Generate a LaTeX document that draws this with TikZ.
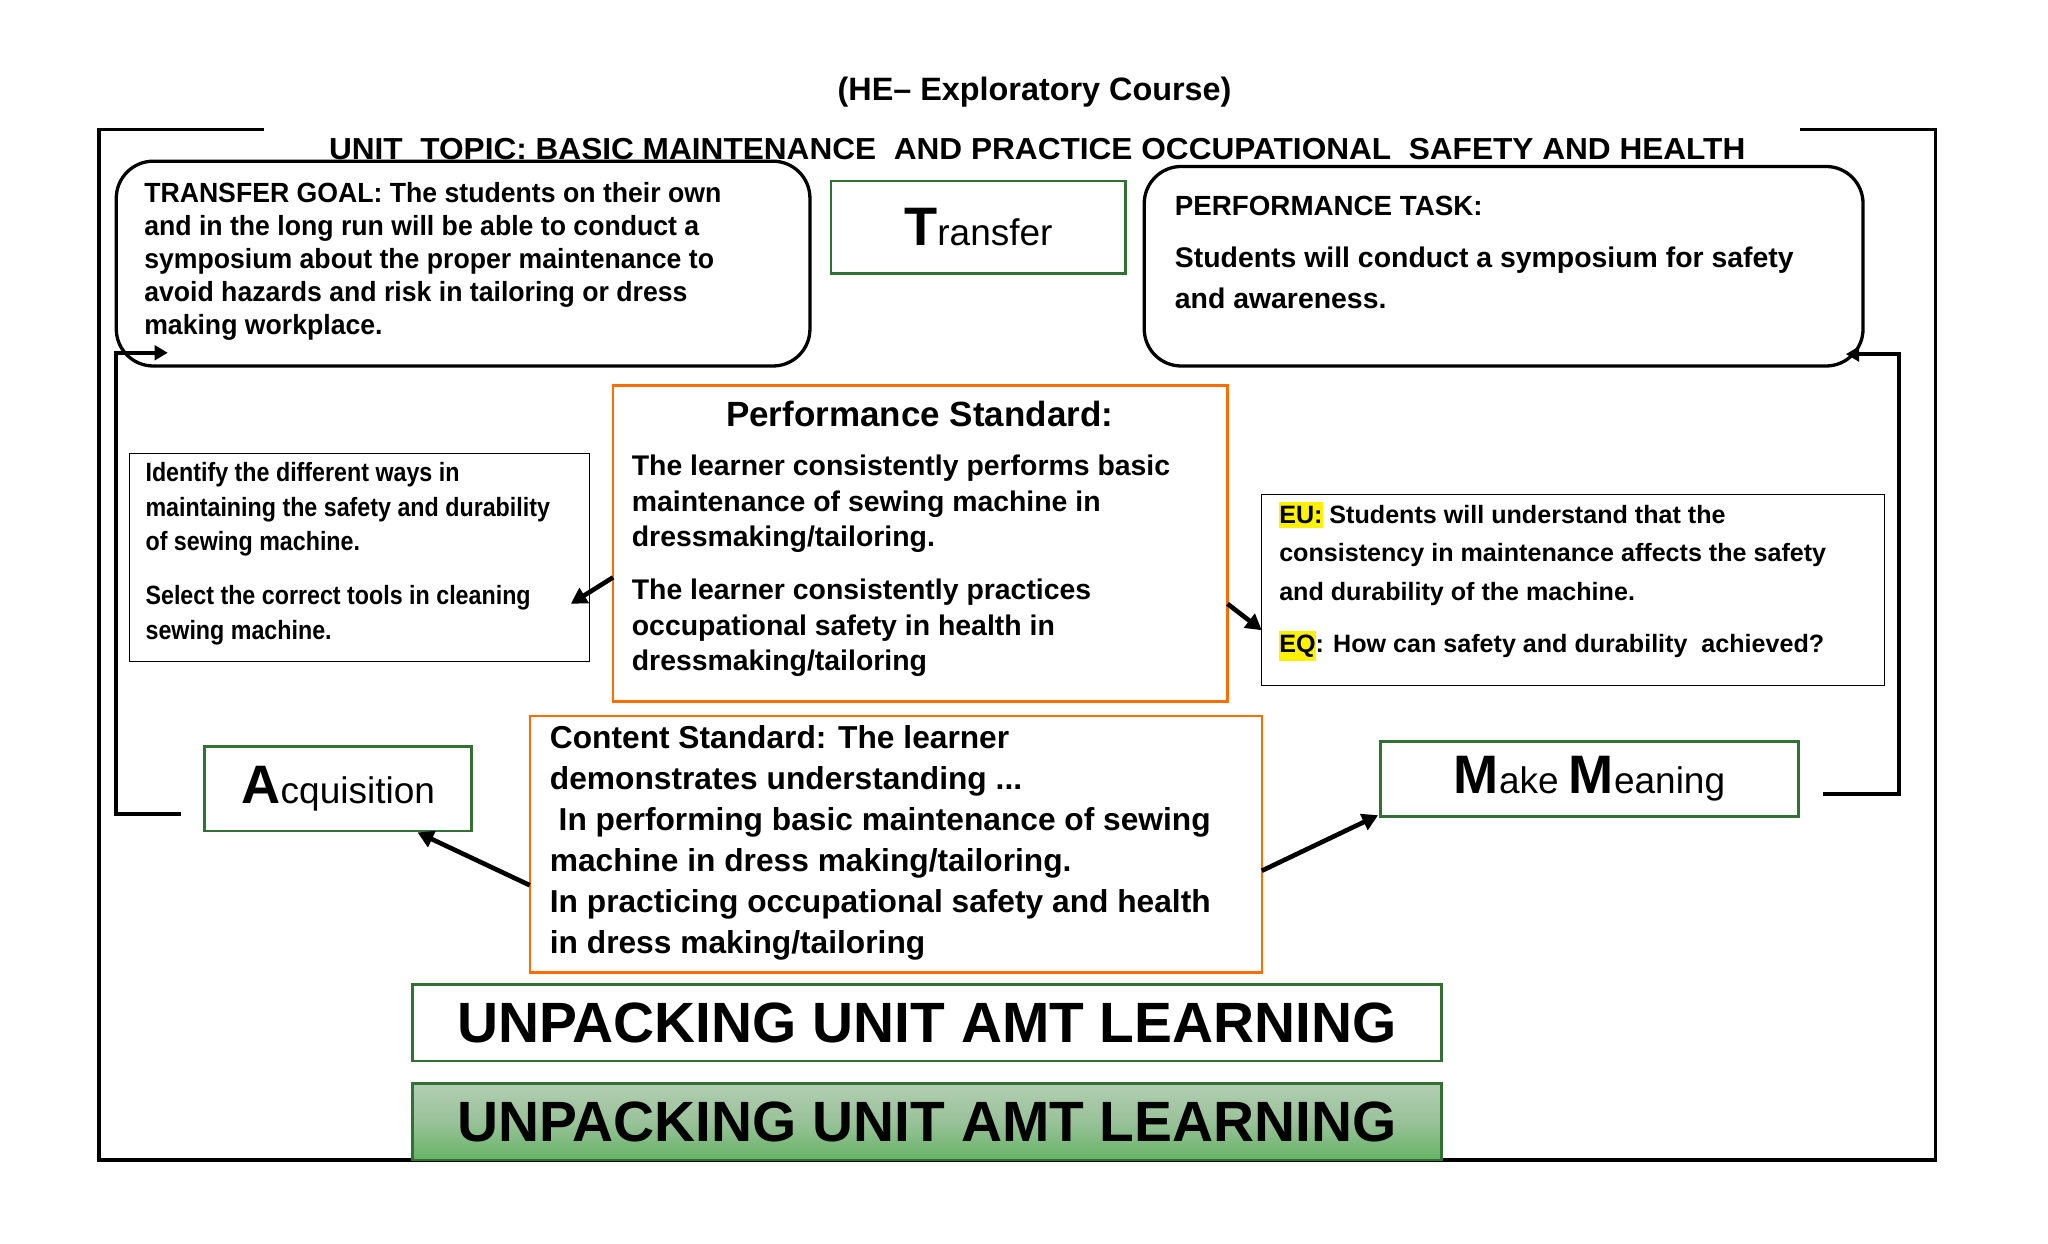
\documentclass[tikz,border=0pt]{standalone}
\usepackage{fontspec}
\setmainfont{Liberation Sans}
\usetikzlibrary{arrows.meta}
\begin{document}
\begin{tikzpicture}[x=1pt,y=-1pt,
  txt/.style={font=\bfseries\fontsize{17}{25}\selectfont,align=left,inner sep=0pt,anchor=north west},
  rbox/.style={draw,line width=2.5pt,rounded corners=28pt},
  gbox/.style={draw=green!30!black!80,line width=2pt},
  obox/.style={draw=orange!85!red,line width=2pt},
  tbox/.style={draw,line width=0.8pt},
  arr/.style={line width=3.5pt,-{Triangle[length=12pt,width=13pt]}},
  big/.style={font=\fontsize{28}{30}\selectfont}]
\useasboundingbox (0,0) rectangle (1550,941);
% outer frame
\draw[line width=2.5pt] (200,98) -- (75,98) -- (75,878) -- (1465,878) -- (1465,98) -- (1362,98);
\node[font=\bfseries\fontsize{24.5}{25}\selectfont] (title) at (783,70) {(HE– Exploratory Course)};
\node[font=\bfseries\fontsize{23}{25}\selectfont,xscale=1.04] (topic) at (785,113) {UNIT\ \ TOPIC:\ BASIC MAINTENANCE\ \ AND PRACTICE\ OCCUPATIONAL\ \ SAFETY AND HEALTH};
% transfer goal
\draw[rbox,fill=white] (88,122) rectangle (613,277);
\node[txt,font=\bfseries\fontsize{21}{25}\selectfont,xscale=0.96] (tg) at (109,138) {TRANSFER GOAL: The students on their own\\and in the long run will be able to conduct a\\symposium about the proper maintenance to\\avoid hazards and risk in tailoring or dress\\making workplace.};
\node[gbox,minimum width=223pt,minimum height=70pt,big] (tr) at (740.5,172) {{\fontsize{41}{40}\selectfont\bfseries T}ransfer};
% performance task
\draw[rbox] (866,126) rectangle (1410,277);
\node[txt,font=\bfseries\fontsize{21}{25}\selectfont] (pt) at (889,148) {PERFORMANCE TASK:};
\node[txt,font=\bfseries\fontsize{21.5}{31}\selectfont] (pt2) at (889,187) {Students will conduct a symposium for safety\\and awareness.};
% performance standard
\draw[obox] (464,292) rectangle (929,531);
\node[font=\bfseries\fontsize{26.5}{25}\selectfont] (psh) at (696,313) {Performance Standard:};
\node[txt,font=\bfseries\fontsize{21.5}{27}\selectfont] (ps1) at (478,344) {The learner consistently performs basic\\maintenance of sewing machine in\\dressmaking/tailoring.};
\node[txt,font=\bfseries\fontsize{21.5}{27}\selectfont] (ps2) at (478,438) {The learner consistently practices\\occupational safety in health in\\dressmaking/tailoring};
\coordinate (psl) at (464,437); \coordinate (psr) at (929,457);
% acquisition details
\draw[tbox] (98,343) rectangle (446,501);
\node[txt,font=\bfseries\fontsize{20}{26}\selectfont,xscale=0.88] (ad1) at (110,350) {Identify the different ways in\\maintaining the safety and durability\\of sewing machine.};
\node[txt,font=\bfseries\fontsize{20}{26}\selectfont,xscale=0.88] (ad2) at (110,443) {Select the correct tools in cleaning\\sewing machine.};
\coordinate (adr) at (432,457);
% EU box
\draw[tbox] (955,374) rectangle (1426,519);
\node[txt,font=\bfseries\fontsize{19}{29}\selectfont] (eu) at (968,380) {\colorbox{yellow}{\kern-3pt EU:\kern-3pt}~Students will understand that the\\consistency in maintenance affects the safety\\and durability of the machine.};
\node[txt,font=\bfseries\fontsize{19}{29}\selectfont] (eq) at (968,477) {\colorbox{yellow}{\kern-3pt EQ\kern-3pt}: How can safety and durability\ \ achieved?};
\coordinate (eul) at (955,477);
% content standard
\draw[obox] (401,542) rectangle (955,736);
\node[txt,font=\bfseries\fontsize{24}{31}\selectfont] (cs) at (416,549) {Content Standard: The learner\\demonstrates understanding ...\\\ In performing basic maintenance of sewing\\machine in dress making/tailoring.\\In practicing occupational safety and health\\in dress making/tailoring};
\coordinate (csl) at (401,670); \coordinate (csr) at (955,659);
% acquisition and make meaning
\node[gbox,minimum width=202pt,minimum height=64pt,big] (acq) at (256,597) {{\fontsize{41}{40}\selectfont\bfseries A}cquisition};
\node[gbox,minimum width=316pt,minimum height=57pt,big] (mm) at (1203,589.5) {{\fontsize{41}{40}\selectfont\bfseries M}ake {\fontsize{41}{40}\selectfont\bfseries M}eaning};
\coordinate (acqa) at (316,630); \coordinate (mma) at (1043,617);
% unpacking
\node[gbox,minimum width=779pt,minimum height=58pt,font=\bfseries\fontsize{43}{40}\selectfont] (up1) at (701.5,774) {UNPACKING UNIT AMT LEARNING};
\node[gbox,top color=green!35!black!30!white,bottom color=green!50!black!60,middle color=green!40!black!40!white,minimum width=779pt,minimum height=58pt,font=\bfseries\fontsize{43}{40}\selectfont] (up2) at (701.5,849) {UNPACKING UNIT AMT LEARNING};
% arrows
\draw[arr] (psl) -- (adr);
\draw[arr] (psr) -- (eul);
\draw[arr] (csl) -- (acqa);
\draw[arr] (csr) -- (mma);
\coordinate (l1) at (137,616); \coordinate (l2) at (127,267);
\coordinate (r1) at (1380,601); \coordinate (r2) at (1397,268);
\draw[line width=3pt,-{Triangle[length=10pt,width=11pt]}] (l1) -- (88,616) -- (88,267) -- (l2);
\draw[line width=3pt,-{Triangle[length=10pt,width=11pt]}] (r1) -- (1437,601) -- (1437,268) -- (r2);
\end{tikzpicture}
\end{document}
